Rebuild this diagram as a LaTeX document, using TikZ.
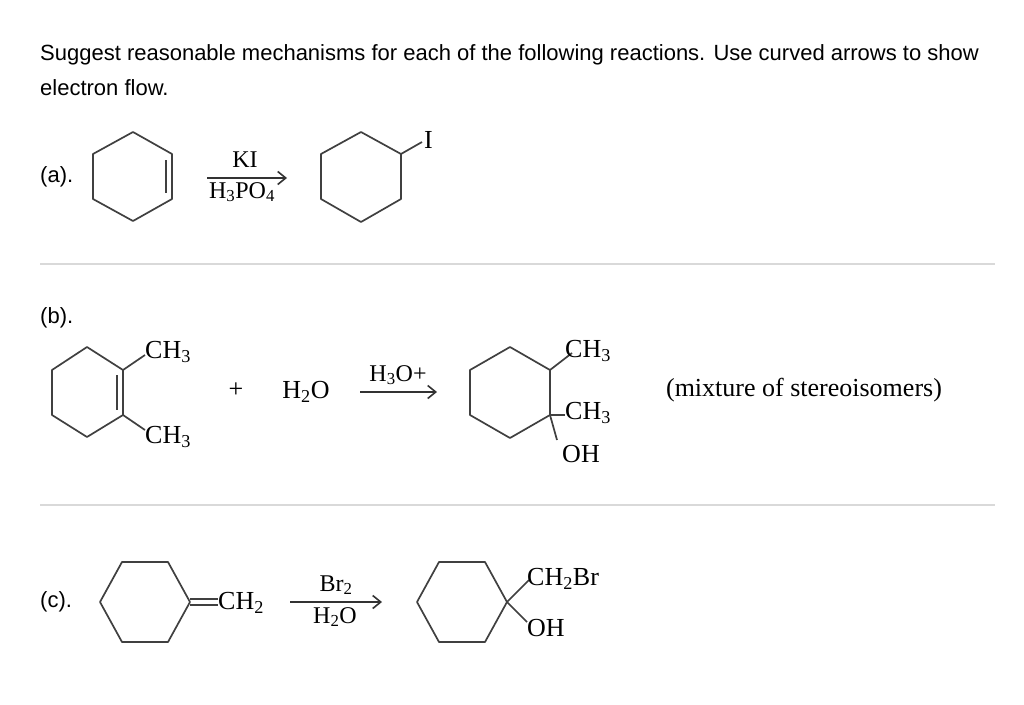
\documentclass[tikz,border=0pt]{standalone}
\usepackage{fontspec}
\usetikzlibrary{arrows.meta}
\setmainfont{Liberation Serif}
\newfontfamily\hsans{Liberation Sans}
\begin{document}
\begin{tikzpicture}[x=1pt,y=-1pt,
  bond/.style={line width=1.7pt,draw=black!75,line join=round},
  chem/.style={font=\fontsize{26}{30}\selectfont,inner sep=0pt},
  small/.style={font=\fontsize{24}{28}\selectfont,inner sep=0pt},
  lab/.style={font=\hsans\fontsize{22}{26}\selectfont,inner sep=0pt,anchor=west},
  rx/.style={line width=1.6pt,draw=black!80,-{Straight Barb[length=8pt,width=13pt]}},
  sep/.style={draw=black!15,line width=1.2pt}]
\useasboundingbox (0,0) rectangle (1024,704);
\fill[white] (0,0) rectangle (1024,704);
\node[lab] (t1) at (40,55) {Suggest reasonable mechanisms for each of the following reactions. Use curved arrows to show};
\node[lab] (t2) at (40,88) {electron flow.};
\node[lab] (la) at (40,177) {(a).};
\node[lab] (lb) at (40,318) {(b).};
\node[lab] (lc) at (40,602) {(c).};
\draw[sep] (40,264) -- (995,264);
\draw[sep] (40,505) -- (995,505);
% (a) reactant
\draw[bond] (133,132) -- (172,154) -- (172,199) -- (133,221) -- (93,199) -- (93,154) -- cycle;
\draw[bond] (166,160) -- (166,193);
\coordinate (a1) at (207,178); \coordinate (a2) at (287,178);
\draw[rx] (a1) -- (a2);
\node[small] (ki) at (245,160) {KI};
\node[small] (hp) at (242,192) {H\textsubscript{3}PO\textsubscript{4}};
% (a) product
\draw[bond] (361,132) -- (401,154) -- (401,199) -- (361,222) -- (321,199) -- (321,154) -- cycle;
\coordinate (ia) at (422,142);
\draw[bond] (401,154) -- (ia);
\node[chem,anchor=west] (iod) at (424,140) {I};
% (b) reactant
\draw[bond] (87,347) -- (123,370) -- (123,415) -- (87,437) -- (52,415) -- (52,370) -- cycle;
\draw[bond] (117,375) -- (117,410);
\coordinate (b1) at (145,355); \coordinate (b2) at (145,430);
\draw[bond] (123,370) -- (b1);
\draw[bond] (123,415) -- (b2);
\node[chem,anchor=west] (m1) at (145,352) {CH\textsubscript{3}};
\node[chem,anchor=west] (m2) at (145,437) {CH\textsubscript{3}};
\node[chem] (plus) at (236,390) {+};
\node[chem] (w) at (306,392) {H\textsubscript{2}O};
\coordinate (b3) at (360,392); \coordinate (b4) at (437,392);
\draw[rx] (b3) -- (b4);
\node[small] (h3o) at (398,375) {H\textsubscript{3}O+};
% (b) product
\draw[bond] (510,347) -- (550,370) -- (550,415) -- (510,438) -- (470,415) -- (470,370) -- cycle;
\coordinate (p1) at (572,353); \coordinate (p2) at (565,415); \coordinate (p3) at (557,440);
\draw[bond] (550,370) -- (p1);
\draw[bond] (550,415) -- (p2);
\draw[bond] (550,415) -- (p3);
\node[chem,anchor=west] (pm1) at (565,351) {CH\textsubscript{3}};
\node[chem,anchor=west] (pm2) at (565,413) {CH\textsubscript{3}};
\node[chem] (poh) at (581,454) {OH};
\node[chem] (mix) at (804,390) {(mixture of stereoisomers)};
% (c) reactant
\draw[bond] (100,602) -- (122,562) -- (168,562) -- (190,602) -- (168,642) -- (122,642) -- cycle;
\draw[bond] (190,599) -- (218,599);
\draw[bond] (190,605) -- (218,605);
\node[chem,anchor=west] (ch2) at (218,603) {CH\textsubscript{2}};
\coordinate (c1) at (290,602); \coordinate (c2) at (382,602);
\draw[rx] (c1) -- (c2);
\node[small] (br) at (336,585) {Br\textsubscript{2}};
\node[small] (w2) at (335,617) {H\textsubscript{2}O};
% (c) product
\draw[bond] (417,602) -- (439,562) -- (485,562) -- (507,602) -- (485,642) -- (439,642) -- cycle;
\coordinate (q1) at (529,580); \coordinate (q2) at (527,622);
\draw[bond] (507,602) -- (q1);
\draw[bond] (507,602) -- (q2);
\node[chem,anchor=west] (cbr) at (527,579) {CH\textsubscript{2}Br};
\node[chem,anchor=west] (coh) at (527,628) {OH};
\end{tikzpicture}
\end{document}
